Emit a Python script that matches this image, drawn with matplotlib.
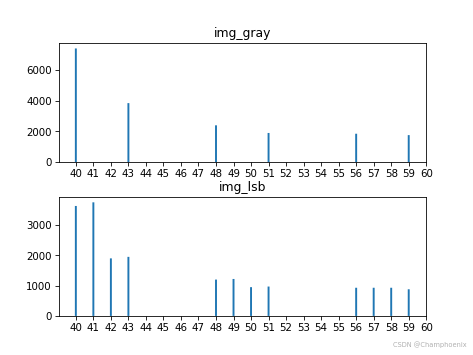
import matplotlib
matplotlib.use("Agg")
import matplotlib.pyplot as plt
import numpy as np

gray_values = [40, 43, 48, 51, 56, 59]
gray_counts = [7420, 3850, 2400, 1900, 1850, 1760]

lsb_values = [40, 41, 42, 43, 48, 49, 50, 51, 56, 57, 58, 59]
lsb_counts = [3630, 3750, 1900, 1950, 1200, 1220, 950, 970, 930, 930, 930, 880]

xticks = list(range(40, 61))

fig = plt.figure(figsize=(6.4, 4.8), dpi=74)
fig.subplots_adjust(left=0.125, right=0.9, top=0.879, bottom=0.11, hspace=0.29)

def draw(ax, vals, counts, title):
    bars = ax.bar(vals, counts, width=0.11, color="#1f77b4", linewidth=0)
    for b in bars:
        b.set_snap(False)
    ax.set_title(title)
    ax.set_xticks(xticks)
    ax.set_xlim(39.05, 60)

ax1 = plt.subplot(2, 1, 1)
draw(ax1, gray_values, gray_counts, "img_gray")
ax2 = plt.subplot(2, 1, 2)
draw(ax2, lsb_values, lsb_counts, "img_lsb")

fig.text(0.985, 0.02, "CSDN @Champhoenix", ha="right", va="bottom",
         fontsize=6.5, color="#b0b0b0")

fig.savefig("out.png", dpi=74)
